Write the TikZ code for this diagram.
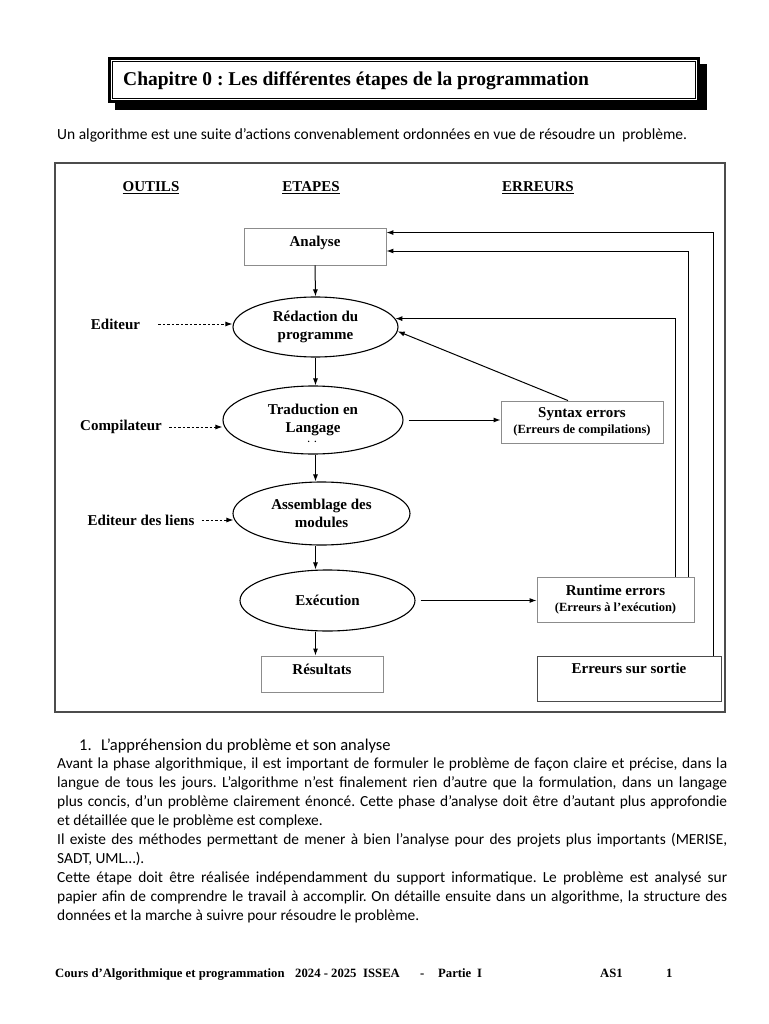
\documentclass[tikz,border=0pt]{standalone}
\usepackage{fontspec}
\setmainfont{Liberation Serif}
\newfontfamily\bodyfont{Carlito}
\usetikzlibrary{shapes.geometric,arrows.meta,calc}
\newcommand\jline[1]{\hbox to 670pt{#1}}
\frenchspacing
\begin{document}
\begin{tikzpicture}[x=1pt,y=-1pt,
  lbl/.style={font=\fontsize{15}{17.5}\selectfont\bfseries, align=center},
  box/.style={draw=black!45, line width=0.9pt, inner sep=0pt, lbl},
  ell/.style={ellipse, draw=black, line width=1.1pt, inner sep=0pt, lbl},
  arr/.style={-{Latex[length=7pt,width=5pt]}, line width=1pt},
  darr/.style={arr, dash pattern=on 2.5pt off 2pt},
  hd/.style={font=\fontsize{15}{17}\selectfont\bfseries, anchor=base},
  body/.style={anchor=base west, inner sep=0pt, font=\bodyfont\fontsize{15.4}{18}\selectfont},
  foot/.style={anchor=base west, inner sep=0pt, font=\fontsize{12.7}{14}\selectfont\bfseries}]
\useasboundingbox (0,0) rectangle (768,1024);
\fill[white] (0,0) rectangle (768,1024);

% title
\fill[black] (115,64) rectangle (707,110);
\node (titlebox) [draw=black, line width=3pt, fill=white, inner sep=0pt,
  minimum width=589pt, minimum height=43pt] at (404,80) {};
\draw[line width=0.8pt] ([shift={(4.5pt,-4.5pt)}]titlebox.north west) rectangle ([shift={(-4.5pt,4.5pt)}]titlebox.south east);
\node (title) [anchor=base west, inner sep=0pt, font=\fontsize{19.5}{22}\selectfont\bfseries] at (123,86) {Chapitre 0 : Les différentes étapes de la programmation};

\node (intro) [body, font=\bodyfont\fontsize{15.5}{18}\selectfont] at (57,139.5) {Un algorithme est une suite d’actions convenablement ordonnées en vue de résoudre un\ \ problème.};

% diagram frame
\draw[line width=1.4pt, draw=black!70] (55,163) rectangle (725,712);

\node (outils) [hd] at (151,192) {\underline{OUTILS}};
\node (etapes) [hd] at (311,192) {\underline{ETAPES}};
\node (erreurs) [hd] at (538,192) {\underline{ERREURS}};

\node (analyse) [box, minimum width=142pt, minimum height=37pt, text height=10pt, text depth=10pt] at (315,246.5) {Analyse};
\node (redac) [ell, minimum width=165pt, minimum height=60pt] at (315.5,327) {Rédaction du\\programme};
\node (trad) [ell, minimum width=180pt, minimum height=68pt] at (313,420) {Traduction en\\Langage};
\node (tradots) [inner sep=0pt, font=\fontsize{9}{9}\selectfont\bfseries] at (312,441.5) {.\ \ .};
\node (assemb) [ell, minimum width=177pt, minimum height=63pt] at (321.5,513.5) {Assemblage des\\modules};
\node (exec) [ell, minimum width=175pt, minimum height=61pt] at (327.5,600.5) {Exécution};
\node (resultats) [box, minimum width=122pt, minimum height=36pt, text height=10pt, text depth=10pt] at (322,674) {Résultats};

\node (syntax) [box, minimum width=162pt, minimum height=42pt] at (582,422) {Syntax errors\\[-2pt]{\fontsize{12.5}{14}\selectfont (Erreurs de compilations)}};
\node (runtime) [box, minimum width=157pt, minimum height=45pt] at (615.5,599.5) {Runtime errors\\[-2pt]{\fontsize{12.5}{14}\selectfont (Erreurs à l’exécution)}};
\node (sortie) [box, draw=black!70, minimum width=184pt, minimum height=45pt, text height=10pt, text depth=20pt] at (629,678.5) {Erreurs sur sortie};

\node (editeur) [lbl, inner sep=0pt] at (115.5,324) {Editeur};
\node (compil) [lbl, inner sep=0pt] at (121,427) {Compilateur};
\node (liens) [lbl, inner sep=0pt] at (141,520) {Editeur des liens};

\coordinate (axis) at (315.5,0);
\coordinate (fb1) at (675,0);
\coordinate (fb2) at (688,0);
\coordinate (fb3) at (713,0);

% main flow
\draw[arr] (analyse.south) -- (redac.north);
\draw[arr] (redac.south) -- (redac.south |- trad.north);
\draw[arr] (trad.south -| axis) -- (assemb.north -| axis);
\draw[arr] (assemb.south -| axis) -- (exec.north -| axis);
\draw[arr] (exec.south -| axis) -- (resultats.north -| axis);

% tools
\draw[darr] ([xshift=18pt]editeur.east) -- (editeur.east -| redac.west);
\draw[darr] ([xshift=7pt]compil.east) -- (compil.east -| trad.west);
\draw[darr] ([xshift=7pt]liens.east) -- ([xshift=1pt]liens.east -| assemb.west);

% errors
\draw[arr] ([xshift=5pt]trad.east) -- (trad.east -| syntax.west);
\draw[arr] ([xshift=5pt]exec.east) -- (exec.east -| runtime.west);
\draw[arr] ([xshift=-14pt]syntax.north) -- (redac.-3);
\draw[arr] (runtime.north -| fb1) |- (redac.6);
\draw[arr] (runtime.north -| fb2) |- ([yshift=-4.5pt]analyse.east);
\draw[arr] (sortie.north -| fb3) |- ([yshift=-5pt]analyse.north east);

% text
\node (secnum) [body, font=\bodyfont\fontsize{16.5}{19}\selectfont] at (79,750) {1.};
\node (sec) [body, font=\bodyfont\fontsize{16.5}{19}\selectfont] at (101,750) {L’appréhension du problème et son analyse};
\node (p1) [body] at (57,768.5) {\jline{Avant la phase algorithmique, il est important de formuler le problème de façon claire et précise, dans la}};
\node (p2) [body] at (57,787.5) {\jline{langue de tous les jours. L’algorithme n’est finalement rien d’autre que la formulation, dans un langage}};
\node (p3) [body] at (57,806.5) {\jline{plus concis, d’un problème clairement énoncé. Cette phase d’analyse doit être d’autant plus approfondie}};
\node (p4) [body] at (57,825.5) {et détaillée que le problème est complexe.};
\node (p5) [body] at (57,844.5) {\jline{Il existe des méthodes permettant de mener à bien l’analyse pour des projets plus importants (MERISE,}};
\node (p6) [body] at (57,863.5) {SADT, UML…).};
\node (p7) [body] at (57,882.5) {\jline{Cette étape doit être réalisée indépendamment du support informatique. Le problème est analysé sur}};
\node (p8) [body] at (57,901.5) {\jline{papier afin de comprendre le travail à accomplir. On détaille ensuite dans un algorithme, la structure des}};
\node (p9) [body] at (57,920.5) {données et la marche à suivre pour résoudre le problème.};

% footer
\node (foot1) [foot] at (55,977) {Cours d’Algorithmique et programmation};
\node (foot2) [foot] at (295,977) {2024 - 2025};
\node (foot3) [foot] at (363,977) {ISSEA};
\node (foot4) [foot] at (420,977) {-};
\node (foot5) [foot] at (438,977) {Partie};
\node (foot6) [foot] at (477,977) {I};
\node (as1) [foot] at (600,977) {AS1};
\node (pg) [foot] at (666,977) {1};
\end{tikzpicture}
\end{document}
